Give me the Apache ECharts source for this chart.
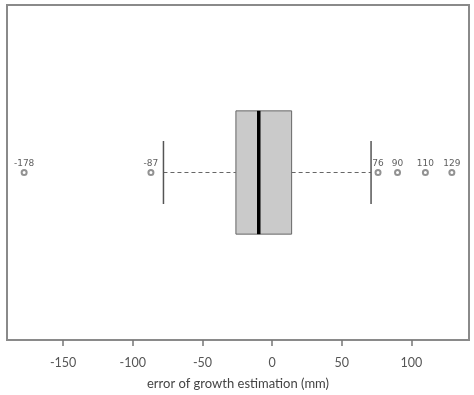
<!DOCTYPE html>
<html>
<head>
<meta charset="utf-8">
<script src="https://cdn.jsdelivr.net/npm/echarts@6/dist/echarts.min.js"></script>
<style>html,body{margin:0;padding:0;background:#fff;}#c{width:474px;height:395px;}</style>
</head>
<body>
<div id="c"></div>
<script>
// box statistics: lower whisker, Q1, median, Q3, upper whisker (mm)
var boxStats = [-78, -26, -9.6, 14, 71];
// outliers (mm)
var outliers = [-178, -87, 76, 90, 110, 129];
// x tick labels
var tickValues = [-150, -100, -50, 0, 50, 100];
var xMin = -190.3, xMax = 141.3;
var axisTitle = 'error of growth estimation (mm)';

var chart = echarts.init(document.getElementById('c'));
var yCenter = 0.5, boxHalf = 0.184, capHalf = 0.094;

chart.setOption({
  animation: false,
  grid: {left: 7, right: 5, top: 5, bottom: 51, show: true, borderColor: '#8a8a8a', borderWidth: 2, backgroundColor: '#fff'},
  xAxis: {
    type: 'value', min: xMin, max: xMax,
    name: axisTitle, nameLocation: 'middle', nameGap: 37,
    nameTextStyle: {fontFamily: 'Lato', fontSize: 13, color: '#444'},
    axisLine: {show: false},
    splitLine: {show: false},
    axisTick: {show: true, length: 6, customValues: tickValues, lineStyle: {color: '#777', width: 1.5}},
    axisLabel: {customValues: tickValues, fontFamily: 'Lato', fontSize: 12.5, color: '#555', margin: 16}
  },
  yAxis: {type: 'value', min: 0, max: 1, show: false},
  series: [
    {
      type: 'custom',
      data: [boxStats],
      encode: {x: [0, 1, 2, 3, 4]},
      renderItem: function (params, api) {
        var lo = api.value(0), q1 = api.value(1), md = api.value(2), q3 = api.value(3), hi = api.value(4);
        var pLo = api.coord([lo, yCenter]), pQ1 = api.coord([q1, yCenter]), pMd = api.coord([md, yCenter]);
        var pQ3 = api.coord([q3, yCenter]), pHi = api.coord([hi, yCenter]);
        var top = api.coord([q1, yCenter + boxHalf])[1], bot = api.coord([q1, yCenter - boxHalf])[1];
        var cTop = api.coord([q1, yCenter + capHalf])[1], cBot = api.coord([q1, yCenter - capHalf])[1];
        var cy = pMd[1];
        var dash = {stroke: '#666', lineWidth: 1, lineDash: [4, 3]};
        var solid = {stroke: '#555', lineWidth: 1.5};
        return {type: 'group', children: [
          {type: 'line', shape: {x1: pLo[0], y1: cy, x2: pQ1[0], y2: cy}, style: dash},
          {type: 'line', shape: {x1: pQ3[0], y1: cy, x2: pHi[0], y2: cy}, style: dash},
          {type: 'line', shape: {x1: pLo[0], y1: cTop, x2: pLo[0], y2: cBot}, style: solid},
          {type: 'line', shape: {x1: pHi[0], y1: cTop, x2: pHi[0], y2: cBot}, style: solid},
          {type: 'rect', shape: {x: pQ1[0], y: top, width: pQ3[0] - pQ1[0], height: bot - top}, style: {fill: '#cacaca', stroke: '#666', lineWidth: 1}},
          {type: 'line', shape: {x1: pMd[0], y1: top, x2: pMd[0], y2: bot}, style: {stroke: '#000', lineWidth: 3.5}}
        ]};
      }
    },
    {
      type: 'scatter',
      z: 5,
      data: outliers.map(function (v) { return [v, yCenter]; }),
      symbol: 'emptyCircle', symbolSize: 5,
      itemStyle: {color: '#777', borderColor: '#777', borderWidth: 0.8},
      label: {show: true, position: 'top', distance: 1, fontFamily: 'DejaVu Sans', fontSize: 9, color: '#333',
        formatter: function (p) { return String(p.value[0]); }}
    }
  ]
});
</script>
</body>
</html>
